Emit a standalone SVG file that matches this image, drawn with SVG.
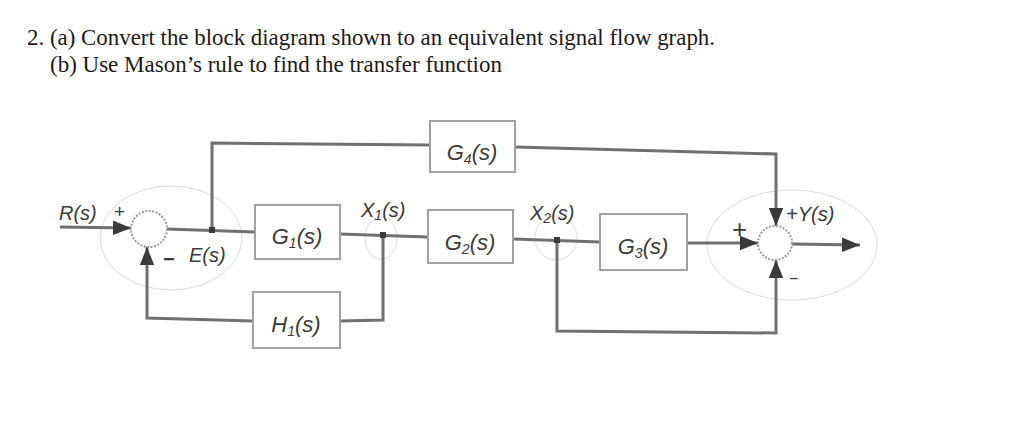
<svg xmlns="http://www.w3.org/2000/svg" width="1024" height="445" viewBox="0 0 1024 445">
<defs>
<marker id="arr" viewBox="0 0 10 10" refX="10" refY="5" markerWidth="6" markerHeight="6" markerUnits="strokeWidth" orient="auto">
<path d="M0,1 L10,5 L0,9 Z" fill="#3a3a3a"/>
</marker>
</defs>
<style>
.title{font-family:"Liberation Serif","Times New Roman",serif;font-size:22.5px;fill:#1a1a1a}
.wire{fill:none;stroke:#707070;stroke-width:3;stroke-linejoin:miter}
.box{fill:#ffffff;stroke:#a0a0a0;stroke-width:2}
.sum{fill:#ffffff;stroke:#9a9a9a;stroke-width:2;stroke-dasharray:2 1.5}
.faint{fill:none;stroke:#dcdcdc;stroke-width:1}
.lbl{font-family:"Liberation Sans",Arial,sans-serif;font-style:italic;font-size:20px;fill:#3a3a3a}
.blbl{font-family:"Liberation Sans",Arial,sans-serif;font-style:italic;font-size:22px;fill:#3a3a3a}
.sgn{font-family:"Liberation Sans",Arial,sans-serif;fill:#3a3a3a}
.dot{fill:#3a3a3a}
</style>
<rect width="1024" height="445" fill="#ffffff"/>
<text class="title" x="27" y="45" textLength="688" lengthAdjust="spacingAndGlyphs">2. (a) Convert the block diagram shown to an equivalent signal flow graph.</text>
<text class="title" x="50" y="72" textLength="452" lengthAdjust="spacingAndGlyphs">(b) Use Mason’s rule to find the transfer function</text>

<g id="annotations">
<ellipse class="faint" cx="171" cy="238" rx="71" ry="52"/>
<ellipse class="faint" cx="792" cy="245" rx="85" ry="55"/>
<ellipse class="faint" cx="381" cy="238" rx="16" ry="21"/>
<ellipse class="faint" cx="556" cy="238" rx="21" ry="22"/>
</g>

<g id="connectors">
<path class="wire" d="M60,227 L131,228" marker-end="url(#arr)"/>
<path class="wire" d="M167,229 L255,232"/>
<path class="wire" d="M212,230 L212,143 L430,145"/>
<path class="wire" d="M515,147 L776,154 L776,226" marker-end="url(#arr)"/>
<path class="wire" d="M340,234 L428,237"/>
<path class="wire" d="M383,235 L383,320 L340,321"/>
<path class="wire" d="M253,321 L147,318 L147,247" marker-end="url(#arr)"/>
<path class="wire" d="M513,239 L600,242"/>
<path class="wire" d="M557,240 L557,331 L776,333 L776,260" marker-end="url(#arr)"/>
<path class="wire" d="M687,243 L758,243" marker-end="url(#arr)"/>
<path class="wire" d="M792,244 L860,245" marker-end="url(#arr)"/>
<rect class="dot" x="209" y="227" width="6" height="6"/>
<rect class="dot" x="380" y="232" width="6" height="6"/>
<rect class="dot" x="554" y="237" width="6" height="6"/>
</g>

<g id="sum1">
<circle class="sum" cx="149" cy="229" r="18"/>
<text class="lbl" x="59" y="220">R(s)</text>
<text class="sgn" x="114" y="218" style="font-size:19px">+</text>
<text class="sgn" x="163" y="266" style="font-size:20px;font-weight:bold">−</text>
<text class="lbl" x="189" y="262">E(s)</text>
</g>

<g id="G1">
<rect class="box" x="255" y="205" width="85" height="54"/>
<text class="blbl" x="297" y="244" text-anchor="middle">G<tspan style="font-size:14px" dy="4">1</tspan><tspan dy="-4">(s)</tspan></text>
</g>

<g id="G4">
<rect class="box" x="430" y="121" width="85" height="51"/>
<text class="blbl" x="472" y="160" text-anchor="middle">G<tspan style="font-size:14px" dy="4">4</tspan><tspan dy="-4">(s)</tspan></text>
</g>

<g id="G2">
<rect class="box" x="428" y="210" width="85" height="53"/>
<text class="blbl" x="470" y="250" text-anchor="middle">G<tspan style="font-size:14px" dy="4">2</tspan><tspan dy="-4">(s)</tspan></text>
</g>

<g id="G3">
<rect class="box" x="600" y="214" width="87" height="56"/>
<text class="blbl" x="643" y="254" text-anchor="middle">G<tspan style="font-size:14px" dy="4">3</tspan><tspan dy="-4">(s)</tspan></text>
</g>

<g id="H1">
<rect class="box" x="253" y="292" width="87" height="56"/>
<text class="blbl" x="296" y="332" text-anchor="middle">H<tspan style="font-size:14px" dy="4">1</tspan><tspan dy="-4">(s)</tspan></text>
</g>

<g id="X1">
<text class="lbl" x="361" y="217">X<tspan style="font-size:14px" dy="3">1</tspan><tspan dy="-3">(s)</tspan></text>
</g>

<g id="X2">
<text class="lbl" x="530" y="220">X<tspan style="font-size:14px" dy="3">2</tspan><tspan dy="-3">(s)</tspan></text>
</g>

<g id="sum2">
<circle class="sum" cx="775" cy="243" r="17"/>
<text class="sgn" x="732" y="238" style="font-size:26px">+</text>
<text class="lbl" x="786" y="221">+Y(s)</text>
<text class="sgn" x="789" y="284" style="font-size:16px">−</text>
</g>
</svg>
